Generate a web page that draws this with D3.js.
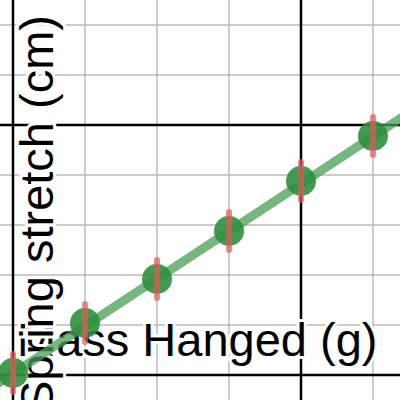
<!DOCTYPE html>
<html><head><meta charset="utf-8">
<script src="https://cdn.jsdelivr.net/npm/d3@7"></script>
<style>body{margin:0;background:#fff}</style>
</head><body><svg width="400" height="400"></svg>
<script>
var mass = [0, 50, 100, 150, 200, 250]
  , stretch = [0.04, 1.04, 1.92, 2.88, 3.88, 4.78]
  , errs = [0.38, 0.38, 0.38, 0.38, 0.38, 0.38]
  , fitLine = [[-50, -0.92], [300, 5.72]]

var svg = d3.select('svg')
var x = d3.scaleLinear().domain([0, 50]).range([13, 85])
  , y = d3.scaleLinear().domain([0, 1]).range([375, 325])

// grid
svg.append('g').selectAll('line').data(d3.range(-50, 301, 50)).join('line')
  .attr('x1', d => x(d)).attr('x2', d => x(d)).attr('y1', 0).attr('y2', 400)
  .attr('stroke', '#bbb').attr('stroke-width', 1.5)
svg.append('g').selectAll('line').data(d3.range(-1, 8.5, 1)).join('line')
  .attr('y1', d => y(d)).attr('y2', d => y(d)).attr('x1', 0).attr('x2', 400)
  .attr('stroke', '#bbb').attr('stroke-width', 1.5)
// major lines
svg.append('g').selectAll('line').data([0, 200]).join('line')
  .attr('x1', d => x(d)).attr('x2', d => x(d)).attr('y1', 0).attr('y2', 400)
  .attr('stroke', '#000').attr('stroke-width', 2.5)
svg.append('g').selectAll('line').data([0, 5]).join('line')
  .attr('y1', d => y(d)).attr('y2', d => y(d)).attr('x1', 0).attr('x2', 400)
  .attr('stroke', '#000').attr('stroke-width', 2.5)

// labels with white halo
svg.append('text').text('Mass Hanged (g)')
  .attr('x', 17).attr('y', 356)
  .attr('font-family', 'Liberation Sans, Arial, sans-serif').attr('font-size', 47)
  .attr('fill', '#000').attr('stroke', '#fff').attr('stroke-width', 6)
  .attr('paint-order', 'stroke')
svg.append('text').text('Spring stretch (cm)')
  .attr('transform', 'translate(53,412) rotate(-90)')
  .attr('font-family', 'Liberation Sans, Arial, sans-serif').attr('font-size', 47)
  .attr('fill', '#000').attr('stroke', '#fff').attr('stroke-width', 6)
  .attr('paint-order', 'stroke')

// fit line
svg.append('line')
  .attr('x1', x(fitLine[0][0])).attr('y1', y(fitLine[0][1]))
  .attr('x2', x(fitLine[1][0])).attr('y2', y(fitLine[1][1]))
  .attr('stroke', '#4a9d56').attr('stroke-opacity', 0.75).attr('stroke-width', 9)

var pts = mass.map((m, i) => ({ m: m, s: stretch[i], e: errs[i] }))
svg.append('g').selectAll('circle').data(pts).join('circle')
  .attr('cx', d => x(d.m)).attr('cy', d => y(d.s)).attr('r', 15)
  .attr('fill', '#2f8f3e').attr('fill-opacity', 0.9)
svg.append('g').selectAll('line').data(pts).join('line')
  .attr('x1', d => x(d.m)).attr('x2', d => x(d.m))
  .attr('y1', d => y(d.s - d.e)).attr('y2', d => y(d.s + d.e))
  .attr('stroke', '#e05a5a').attr('stroke-opacity', 0.7)
  .attr('stroke-width', 6).attr('stroke-linecap', 'round')
</script></body></html>
